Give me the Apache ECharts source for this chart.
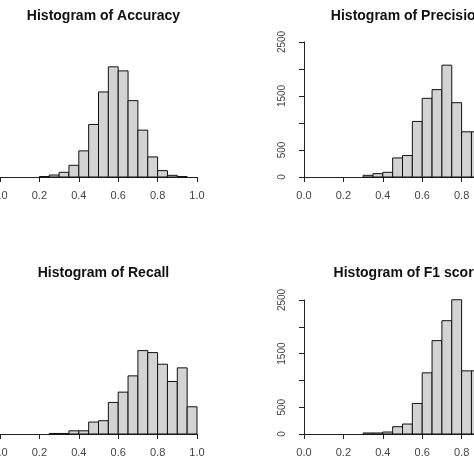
<!DOCTYPE html>
<html>
<head>
<meta charset="utf-8">
<script src="https://cdn.jsdelivr.net/npm/echarts@6/dist/echarts.min.js"></script>
<style>
  html, body { margin: 0; padding: 0; background: #fff; }
  #chart { width: 474px; height: 474px; }
</style>
</head>
<body>
<div id="chart"></div>
<script>
// bin left edges (width 0.05) and counts per panel
const accuracyBins = [0.20, 0.25, 0.30, 0.35, 0.40, 0.45, 0.50, 0.55, 0.60, 0.65, 0.70, 0.75, 0.80, 0.85, 0.90];
const accuracyCounts = [8, 37, 87, 217, 484, 973, 1575, 2040, 1965, 1414, 868, 372, 118, 31, 8];

const precisionBins = [0.30, 0.35, 0.40, 0.45, 0.50, 0.55, 0.60, 0.65, 0.70, 0.75, 0.80, 0.85];
const precisionCounts = [31, 62, 87, 353, 397, 1029, 1457, 1618, 2071, 1376, 837, 837];

const recallBins = [0.25, 0.30, 0.35, 0.40, 0.45, 0.50, 0.55, 0.60, 0.65, 0.70, 0.75, 0.80, 0.85, 0.90, 0.95];
const recallCounts = [10, 10, 60, 60, 223, 248, 589, 781, 1085, 1556, 1519, 1302, 980, 1234, 508];

const f1Bins = [0.30, 0.35, 0.40, 0.45, 0.50, 0.55, 0.60, 0.65, 0.70, 0.75, 0.80, 0.85];
const f1Counts = [19, 19, 37, 136, 186, 570, 1141, 1742, 2114, 2505, 1178, 1178];

const binWidth = 0.05;
const yShownLabels = [0, 500, 1500, 2500];

const panels = [
  { title: 'Histogram of Accuracy', bins: accuracyBins, counts: accuracyCounts, left: 0, top: 42, height: 135, titleTop: 4, showY: false },
  { title: 'Histogram of Precision', bins: precisionBins, counts: precisionCounts, left: 304, top: 42, height: 135, titleTop: 4, showY: true },
  { title: 'Histogram of Recall', bins: recallBins, counts: recallCounts, left: 0, top: 300, height: 134, titleTop: 261, showY: false },
  { title: 'Histogram of F1 score', bins: f1Bins, counts: f1Counts, left: 304, top: 300, height: 134, titleTop: 261, showY: true },
];

const plotWidth = 197;
const labelColor = '#444';
const font = 'Liberation Sans, Arial, sans-serif';

const option = {
  backgroundColor: '#fff',
  animation: false,
  title: panels.map((p) => ({
    text: p.title,
    left: p.left + plotWidth / 2,
    top: p.titleTop,
    textAlign: 'center',
    textStyle: { fontFamily: font, fontSize: 14, fontWeight: 'bold', color: '#111' },
  })),
  grid: panels.map((p) => ({
    left: p.left, top: p.top, right: 474 - p.left - plotWidth, height: p.height,
    outerBoundsMode: 'none', containLabel: false,
  })),
  xAxis: panels.map((p, i) => ({
    type: 'value', gridIndex: i, min: 0, max: 1, interval: 0.2, offset: 5,
    axisLine: { show: true, lineStyle: { color: '#222', width: 1 } },
    axisTick: { show: true, length: 5, lineStyle: { color: '#222' } },
    axisLabel: { color: labelColor, fontFamily: font, fontSize: 11, margin: 8, formatter: (v) => v.toFixed(1) },
    splitLine: { show: false },
  })),
  yAxis: panels.map((p, i) => ({
    type: 'value', gridIndex: i, min: 0, max: 2500, interval: 500, offset: 9,
    show: p.showY,
    axisLine: { show: true, lineStyle: { color: '#222', width: 1 } },
    axisTick: { show: true, length: 5, lineStyle: { color: '#222' } },
    axisLabel: {
      color: labelColor, fontFamily: font, fontSize: 10, rotate: 90, margin: 8,
      formatter: (v) => (yShownLabels.includes(v) ? String(v) : ''),
    },
    splitLine: { show: false },
  })),
  series: panels.map((p, i) => ({
    type: 'custom',
    xAxisIndex: i,
    yAxisIndex: i,
    data: p.bins.map((b, k) => [b, p.counts[k]]),
    renderItem: (params, api) => {
      const x0 = api.value(0);
      const a = api.coord([x0, api.value(1)]);
      const b = api.coord([x0 + binWidth, 0]);
      return {
        type: 'rect',
        shape: { x: a[0], y: a[1], width: b[0] - a[0], height: b[1] - a[1] },
        style: { fill: '#d3d3d3', stroke: '#111', lineWidth: 1 },
      };
    },
  })),
};

const chart = echarts.init(document.getElementById('chart'));
chart.setOption(option);
</script>
</body>
</html>
